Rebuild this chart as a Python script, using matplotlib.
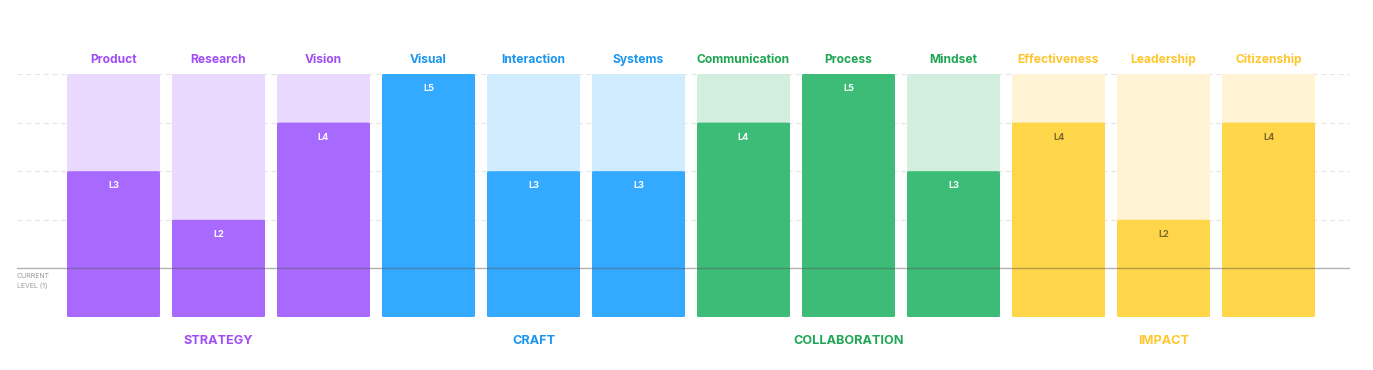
import matplotlib.pyplot as plt
from matplotlib.patches import FancyBboxPatch

plt.rcParams['font.family'] = ['Inter', 'DejaVu Sans']

skills = ['Product', 'Research', 'Vision', 'Visual', 'Interaction', 'Systems',
          'Communication', 'Process', 'Mindset', 'Effectiveness', 'Leadership', 'Citizenship']
levels = [3, 2, 4, 5, 3, 3, 4, 5, 3, 4, 2, 4]
groups = ['STRATEGY', 'CRAFT', 'COLLABORATION', 'IMPACT']
group_of = [0, 0, 0, 1, 1, 1, 2, 2, 2, 3, 3, 3]
max_level = 5
current_level = 1

dark = ['#A869FF', '#33AAFF', '#3DBC77', '#FFD54A']
light = ['#E9D9FF', '#D1EBFF', '#D2EEDF', '#FFF3D4']
text_col = ['#A04DF5', '#1A96F0', '#1FA653', '#FFC62E']
inner_col = ['white', 'white', 'white', '#7A6A2E']

fig = plt.figure(figsize=(13.73, 3.70), dpi=100)
ax = fig.add_axes([17 / 1373, 53 / 370, 1333 / 1373, 243 / 370])
ax.set_xlim((17 - 113.5) / 105, (1350 - 113.5) / 105)
ax.set_ylim(0, max_level)
ax.axis('off')

# dashed grid lines
for lv in range(2, max_level + 1):
    ax.axhline(lv, color='#E6E6E6', lw=0.9, ls=(0, (4, 3)), zorder=0)

w = 93 / 105
for i, (name, lv) in enumerate(zip(skills, levels)):
    g = group_of[i]
    bg = FancyBboxPatch((i - w / 2, 0), w, max_level, boxstyle='round,pad=0,rounding_size=0.03',
                        mutation_aspect=0.5, fc=light[g], ec='none', zorder=1)
    ax.add_patch(bg)
    fg = FancyBboxPatch((i - w / 2, 0), w, lv, boxstyle='round,pad=0,rounding_size=0.03',
                        mutation_aspect=0.5, fc=dark[g], ec='none', zorder=2)
    ax.add_patch(fg)
    ax.text(i, lv - 0.3, f'L{lv}', ha='center', va='center', fontsize=6.5,
            fontweight='bold', color=inner_col[g], zorder=4)
    ax.text(i, max_level + 0.226, name, ha='center', va='baseline', fontsize=8.7,
            fontweight='bold', color=text_col[g], clip_on=False)

# current level line
ax.axhline(current_level, color='#555555', lw=1.0, alpha=0.45, zorder=3)
ax.text(-0.919, current_level - 0.1, 'CURRENT\nLEVEL (1)', ha='left', va='top',
        fontsize=5, color='#9A9A9A', linespacing=1.6)

# group labels
for gi, gname in enumerate(groups):
    idx = [i for i, g in enumerate(group_of) if g == gi]
    cx = sum(idx) / len(idx)
    ax.text(cx, -0.56, gname, ha='center', va='baseline', fontsize=9.1,
            fontweight='bold', color=text_col[gi], clip_on=False)

fig.savefig('out.png', dpi=100, facecolor='white')
